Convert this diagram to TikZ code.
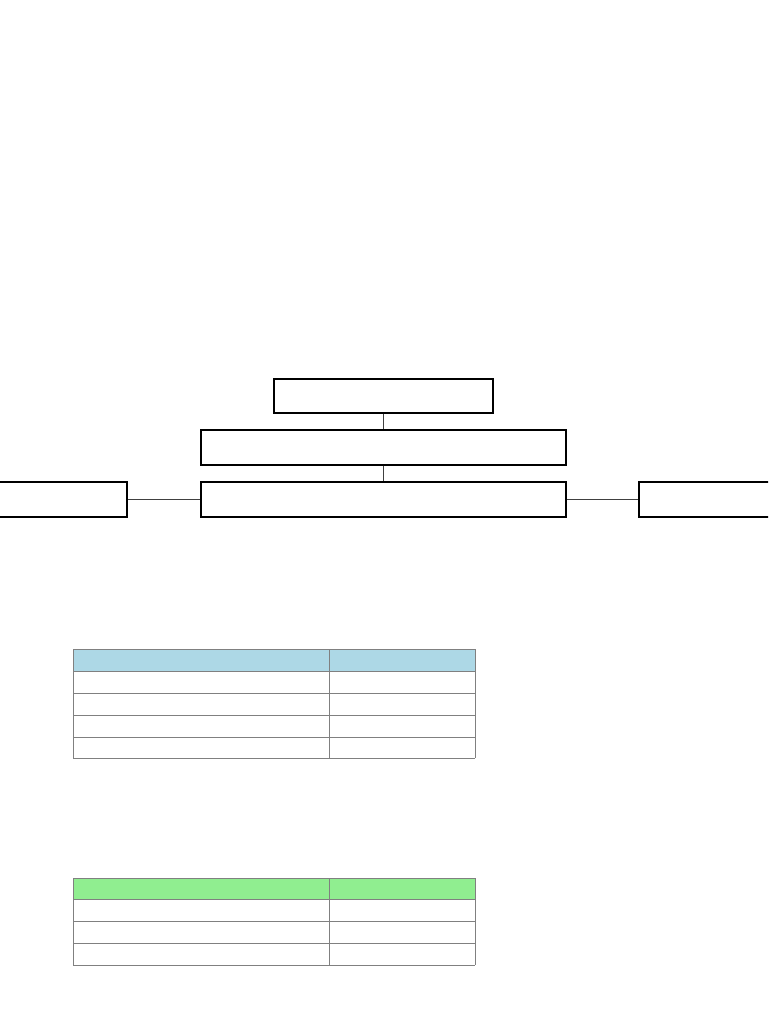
\documentclass[tikz,border=0pt]{standalone}
\begin{document}
\begin{tikzpicture}[x=1pt,y=-1pt,
  boxstyle/.style={draw=black,line width=1.2pt,fill=white},
  conn/.style={draw=black!75,line width=1pt},
  grid/.style={draw=black!50,line width=0.8pt}]
\useasboundingbox (0,0) rectangle (768,1024);
\clip (0,0) rectangle (768,1024);
% boxes
\node[boxstyle,minimum width=219pt,minimum height=34pt,inner sep=0pt] (top) at (383.5,396) {};
\node[boxstyle,minimum width=365pt,minimum height=35pt,inner sep=0pt] (mid) at (383.5,447.5) {};
\node[boxstyle,minimum width=365pt,minimum height=35pt,inner sep=0pt] (bot) at (383.5,499.5) {};
\node[boxstyle,minimum width=147pt,minimum height=35pt,inner sep=0pt] (left) at (53.5,499.5) {};
\node[boxstyle,minimum width=149pt,minimum height=35pt,inner sep=0pt] (right) at (713.5,499.5) {};
\draw[conn] (top.south) -- (mid.north);
\draw[conn] (mid.south) -- (bot.north);
\draw[conn] (left.east) -- (bot.west);
\draw[conn] (bot.east) -- (right.west);
% table 1
\fill[fill={rgb,255:red,173;green,216;blue,230}] (73,649) rectangle (475,671);
\foreach \yy in {649,671,693,715,737,758} \draw[grid] (73,\yy) -- (475,\yy);
\draw[grid] (73,649) -- (73,758);
\draw[grid] (329,649) -- (329,758);
\draw[grid] (475,649) -- (475,758);
% table 2
\fill[fill={rgb,255:red,144;green,238;blue,144}] (73,878) rectangle (475,899);
\foreach \yy in {878,899,921,943,965} \draw[grid] (73,\yy) -- (475,\yy);
\draw[grid] (73,878) -- (73,965);
\draw[grid] (329,878) -- (329,965);
\draw[grid] (475,878) -- (475,965);
\end{tikzpicture}
\end{document}
